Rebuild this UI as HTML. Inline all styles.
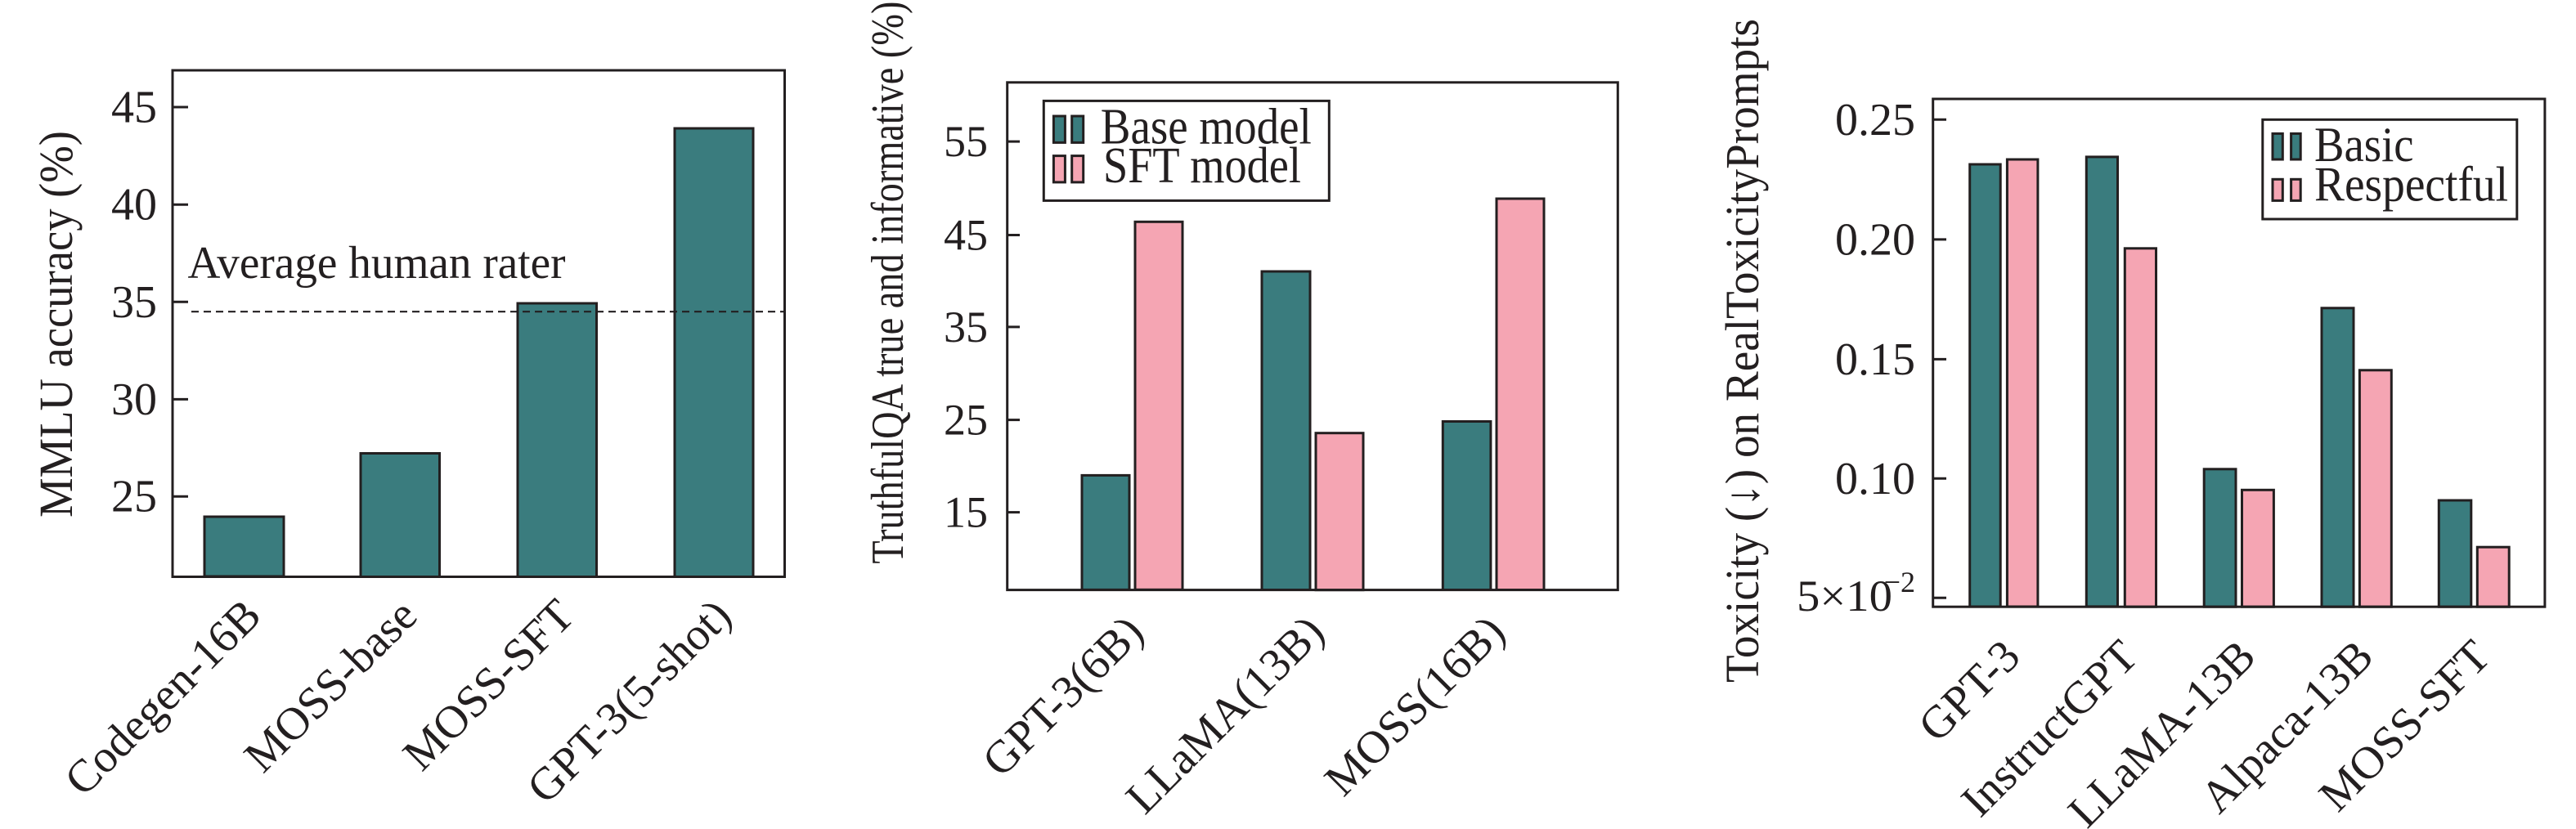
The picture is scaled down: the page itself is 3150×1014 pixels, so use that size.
<!DOCTYPE html>
<html><head><meta charset="utf-8"><style>
html,body{margin:0;padding:0;background:#fff;}
svg{display:block;}
text{font-family:"Liberation Serif","DejaVu Serif",serif;fill:#231f20;}
</style></head><body>
<svg width="3150" height="1014" viewBox="0 0 3150 1014" xmlns="http://www.w3.org/2000/svg">
<g stroke="#231f20" stroke-width="3">
<rect x="250" y="632" width="97" height="73" fill="#3a7c7e"/>
<rect x="441" y="554.5" width="96.5" height="151" fill="#3a7c7e"/>
<rect x="633" y="371" width="96.5" height="334.5" fill="#3a7c7e"/>
<rect x="825" y="157" width="96" height="548.5" fill="#3a7c7e"/>
<rect x="211" y="86" width="748.5" height="619.5" fill="none"/>
<line x1="211" y1="131" x2="230" y2="131"/>
<line x1="211" y1="250.2" x2="230" y2="250.2"/>
<line x1="211" y1="369.3" x2="230" y2="369.3"/>
<line x1="211" y1="488.4" x2="230" y2="488.4"/>
<line x1="211" y1="607.2" x2="230" y2="607.2"/>
<line x1="234" y1="381.2" x2="959" y2="381.2" stroke-width="2.2" stroke-dasharray="9,6"/>
<rect x="1323" y="581.4" width="58" height="140" fill="#3a7c7e"/>
<rect x="1388" y="271.3" width="58" height="450" fill="#f5a5b3"/>
<rect x="1543" y="332" width="59" height="389.5" fill="#3a7c7e"/>
<rect x="1609" y="529.7" width="58" height="192" fill="#f5a5b3"/>
<rect x="1764.3" y="515.5" width="58.6" height="206" fill="#3a7c7e"/>
<rect x="1830" y="243" width="58" height="478.5" fill="#f5a5b3"/>
<rect x="1231.7" y="100.8" width="746.6" height="620.8" fill="none"/>
<line x1="1231.7" y1="173.1" x2="1247" y2="173.1"/>
<line x1="1231.7" y1="287.5" x2="1247" y2="287.5"/>
<line x1="1231.7" y1="399.9" x2="1247" y2="399.9"/>
<line x1="1231.7" y1="513.6" x2="1247" y2="513.6"/>
<line x1="1231.7" y1="626.6" x2="1247" y2="626.6"/>
<rect x="1276.3" y="123.4" width="349" height="122" fill="#fff"/>
<rect x="1288.4" y="142" width="14" height="32.4" fill="#3a7c7e"/>
<rect x="1310.7" y="142" width="14" height="32.4" fill="#3a7c7e"/>
<rect x="1288.4" y="190.6" width="14" height="32.3" fill="#f5a5b3"/>
<rect x="1310.7" y="190.6" width="14" height="32.3" fill="#f5a5b3"/>
<rect x="2408.7" y="201" width="37.5" height="541" fill="#3a7c7e"/>
<rect x="2454.4" y="195" width="37.5" height="547" fill="#f5a5b3"/>
<rect x="2551.3" y="191.9" width="38.2" height="550" fill="#3a7c7e"/>
<rect x="2598.3" y="303.8" width="38.2" height="438.4" fill="#f5a5b3"/>
<rect x="2695.2" y="573.8" width="38.8" height="168.4" fill="#3a7c7e"/>
<rect x="2741.5" y="599.3" width="38.9" height="142.9" fill="#f5a5b3"/>
<rect x="2839" y="376.8" width="39" height="365.4" fill="#3a7c7e"/>
<rect x="2885.4" y="452.8" width="38.9" height="289.4" fill="#f5a5b3"/>
<rect x="2982.3" y="612" width="39.5" height="130.2" fill="#3a7c7e"/>
<rect x="3029.3" y="669.2" width="38.9" height="73" fill="#f5a5b3"/>
<rect x="2363.7" y="121" width="748.2" height="621.2" fill="none"/>
<line x1="2363.7" y1="146.3" x2="2380" y2="146.3"/>
<line x1="2363.7" y1="292.9" x2="2380" y2="292.9"/>
<line x1="2363.7" y1="439.4" x2="2380" y2="439.4"/>
<line x1="2363.7" y1="585.3" x2="2380" y2="585.3"/>
<line x1="2363.7" y1="731.2" x2="2380" y2="731.2"/>
<rect x="2766.8" y="146.3" width="311" height="121.7" fill="#fff"/>
<rect x="2779" y="163.4" width="12.3" height="31.6" fill="#3a7c7e"/>
<rect x="2801.6" y="163.4" width="11.6" height="31.6" fill="#3a7c7e"/>
<rect x="2779" y="219.3" width="12.3" height="26.1" fill="#f5a5b3"/>
<rect x="2801.6" y="219.3" width="11.6" height="26.1" fill="#f5a5b3"/>
</g>

<g font-size="56" text-anchor="end">
<text x="192" y="149.5">45</text>
<text x="192" y="268.7">40</text>
<text x="192" y="387.8">35</text>
<text x="192" y="506.9">30</text>
<text x="192" y="625.7">25</text>
</g>
<text x="229.5" y="340" font-size="56" textLength="462" lengthAdjust="spacingAndGlyphs">Average human rater</text>
<text transform="translate(88,396.5) rotate(-90)" font-size="58" text-anchor="middle" textLength="473" lengthAdjust="spacingAndGlyphs">MMLU accuracy (%)</text>
<g font-size="56" text-anchor="end">
<text transform="translate(322,756) rotate(-45)">Codegen-16B</text>
<text transform="translate(513,756) rotate(-45)">MOSS-base</text>
<text transform="translate(705,756) rotate(-45)">MOSS-SFT</text>
<text transform="translate(897,756) rotate(-45)">GPT-3(5-shot)</text>
</g>

<g font-size="54" text-anchor="end">
<text x="1208" y="191">55</text>
<text x="1208" y="305.4">45</text>
<text x="1208" y="417.8">35</text>
<text x="1208" y="531.5">25</text>
<text x="1208" y="644.5">15</text>
</g>
<text x="1345.8" y="175.7" font-size="62" textLength="258" lengthAdjust="spacingAndGlyphs">Base model</text>
<text x="1349" y="222.9" font-size="62" textLength="242" lengthAdjust="spacingAndGlyphs">SFT model</text>
<text transform="translate(1104,345.6) rotate(-90)" font-size="56" text-anchor="middle" textLength="688" lengthAdjust="spacingAndGlyphs">TruthfulQA true and informative (%)</text>
<g font-size="56" text-anchor="end">
<text transform="translate(1401,776) rotate(-45)">GPT-3(6B)</text>
<text transform="translate(1622,776) rotate(-45)">LLaMA(13B)</text>
<text transform="translate(1843,776) rotate(-45)">MOSS(16B)</text>
</g>

<g font-size="56" text-anchor="end">
<text x="2342" y="165">0.25</text>
<text x="2342" y="311.5">0.20</text>
<text x="2342" y="458">0.15</text>
<text x="2342" y="604">0.10</text>
</g>
<text x="2197" y="747" font-size="54" textLength="117" lengthAdjust="spacingAndGlyphs">5×10</text>
<text x="2342" y="724" font-size="36" text-anchor="end">−2</text>
<text x="2830" y="196.8" font-size="60" textLength="121.6" lengthAdjust="spacingAndGlyphs">Basic</text>
<text x="2830" y="245.4" font-size="60" textLength="237" lengthAdjust="spacingAndGlyphs">Respectful</text>
<text transform="translate(2150,429) rotate(-90)" font-size="58" text-anchor="middle" textLength="812" lengthAdjust="spacingAndGlyphs">Toxicity (↓) on RealToxicityPrompts</text>
<g font-size="56" text-anchor="end">
<text transform="translate(2473,806) rotate(-45)">GPT-3</text>
<text transform="translate(2617,806) rotate(-45)">InstructGPT</text>
<text transform="translate(2761,806) rotate(-45)">LLaMA-13B</text>
<text transform="translate(2905,806) rotate(-45)">Alpaca-13B</text>
<text transform="translate(3048,806) rotate(-45)">MOSS-SFT</text>
</g>
</svg>
</body></html>
